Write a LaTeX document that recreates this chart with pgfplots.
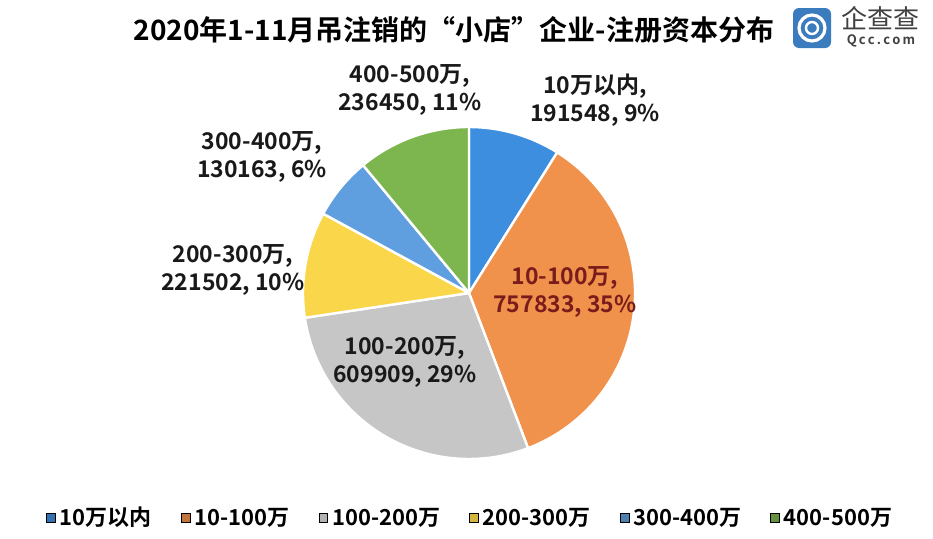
\documentclass[border=0pt]{standalone}
\usepackage{pgfplots}
\pgfplotsset{compat=1.18}
\usepackage{pgfplotstable}
\usepackage{fontspec}
\setmainfont{Noto Sans CJK SC}[BoldFont={Noto Sans CJK SC Bold}]

\definecolor{col0}{HTML}{3E8EE0}
\definecolor{col1}{HTML}{F0924C}
\definecolor{col2}{HTML}{C6C6C6}
\definecolor{col3}{HTML}{FAD64A}
\definecolor{col4}{HTML}{609FDF}
\definecolor{col5}{HTML}{7DB64F}
\definecolor{logoblue}{HTML}{3B7CBF}
\definecolor{darkred}{HTML}{7A1C1C}

% registered capital groups, number of shops
\pgfplotstableread[col sep=comma]{
label,value,pct
10万以内,191548,9
10-100万,757833,35
100-200万,609909,29
200-300万,221502,10
300-400万,130163,6
400-500万,236450,11
}\piedata

\begin{document}
\begin{tikzpicture}
% angles of the slices, clockwise from the top
\gdef\total{0}
\foreach \i in {0,...,5}{%
  \pgfplotstablegetelem{\i}{value}\of\piedata
  \xdef\total{\fpeval{\total+\pgfplotsretval}}%
}
\gdef\cum{0}
\foreach \i in {0,...,5}{%
  \pgfplotstablegetelem{\i}{value}\of\piedata
  \expandafter\xdef\csname sa\i\endcsname{\fpeval{90-360*\cum/\total}}%
  \xdef\cum{\fpeval{\cum+\pgfplotsretval}}%
  \expandafter\xdef\csname ea\i\endcsname{\fpeval{90-360*\cum/\total}}%
}
\begin{axis}[
  scale only axis,
  width=466.5pt, height=269pt,
  xmin=0, xmax=933, ymin=0, ymax=538,
  hide axis,
  clip=false,
  legend columns=6,
  legend image code/.code={\fill[#1] (0pt,-2.2pt) rectangle (4.4pt,2.2pt);},
  legend style={draw=none, fill=none, at={(0.505,0.037)}, anchor=center,
    font=\fontsize{11}{13}\selectfont\bfseries,
    /tikz/every even column/.append style={column sep=12.5pt},
    inner sep=0pt},
]
\path (rel axis cs:0,0) rectangle (rel axis cs:1,1);

\pgfplotsinvokeforeach{0,...,5}{
  \fill[col#1, draw=white, line width=1.2pt, line join=round]
    (axis cs:469,245) -- ++(\csname sa#1\endcsname:83pt)
    arc[start angle=\csname sa#1\endcsname, end angle=\csname ea#1\endcsname, radius=83pt]
    -- cycle;
}

\addlegendimage{fill=col0!80!black}
\addlegendimage{fill=col1!80!black}
\addlegendimage{fill=col2!90!black}
\addlegendimage{fill=col3!85!black}
\addlegendimage{fill=col4!80!black}
\addlegendimage{fill=col5!80!black}
\legend{10万以内,10-100万,100-200万,200-300万,300-400万,400-500万}

% slice labels
\tikzset{lab/.style={align=center, font=\fontsize{11.5}{14}\selectfont\bfseries, text=black!90, inner sep=0pt}}
\node[lab] at (axis cs:595,438) {10万以内,\\191548, 9\%};
\node[lab, text=darkred] at (axis cs:565,246) {10-100万,\\757833, 35\%};
\node[lab] at (axis cs:405,176) {100-200万,\\609909, 29\%};
\node[lab] at (axis cs:233,268) {200-300万,\\221502, 10\%};
\node[lab] at (axis cs:262,381) {300-400万,\\130163, 6\%};
\node[lab] at (axis cs:410,448) {400-500万,\\236450, 11\%};

% title
\node[font=\fontsize{14}{16}\selectfont\bfseries, inner sep=0pt] at (axis cs:454,508)
  {2020年1-11月吊注销的“小店”企业-注册资本分布};

% logo
\fill[logoblue, rounded corners=3pt] (axis cs:793,490) rectangle (axis cs:831,530);
\draw[white, line width=1.6pt] (axis cs:812,510) circle[radius=6.5pt];
\draw[white, line width=1.2pt] (axis cs:812,510) circle[radius=3pt];
\node[font=\fontsize{13}{14}\selectfont, text=black!75, inner sep=0pt] at (axis cs:880,520) {企查查};
\node[font=\fontsize{6.5}{7}\selectfont\bfseries, text=black!75, inner sep=0pt] at (axis cs:881,497) {Q\,c\,c\,.\,c\,o\,m};
\end{axis}
\end{tikzpicture}
\end{document}
